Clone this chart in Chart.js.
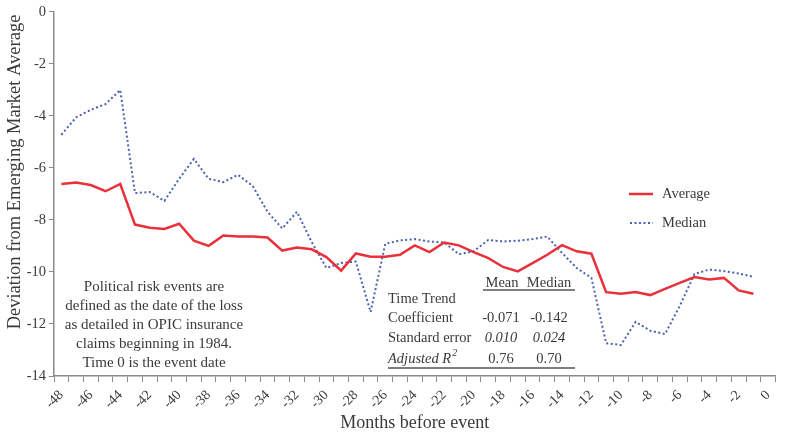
<!DOCTYPE html>
<html>
<head>
<meta charset="utf-8">
<script src="https://cdn.jsdelivr.net/npm/chart.js@4"></script>
<style>
  body { margin: 0; background: #fff; }
</style>
</head>
<body>
<canvas id="chart" width="785" height="434"></canvas>
<script>
const months = ['-48','-47','-46','-45','-44','-43','-42','-41','-40','-39','-38','-37','-36','-35','-34','-33','-32','-31','-30','-29','-28','-27','-26','-25','-24','-23','-22','-21','-20','-19','-18','-17','-16','-15','-14','-13','-12','-11','-10','-9','-8','-7','-6','-5','-4','-3','-2','-1','0'];

// month -48 .. -1, nothing at 0
const average = [-6.62,-6.56,-6.66,-6.90,-6.62,-8.18,-8.30,-8.35,-8.15,-8.80,-9.00,-8.60,-8.64,-8.64,-8.68,-9.18,-9.06,-9.13,-9.43,-9.95,-9.29,-9.42,-9.42,-9.34,-8.98,-9.24,-8.87,-8.98,-9.24,-9.47,-9.81,-9.98,-9.66,-9.34,-8.97,-9.21,-9.30,-10.78,-10.84,-10.77,-10.89,-10.65,-10.42,-10.20,-10.29,-10.23,-10.71,-10.84,null];
const median = [-4.73,-4.06,-3.77,-3.55,-3.01,-6.97,-6.93,-7.27,-6.42,-5.66,-6.42,-6.55,-6.27,-6.70,-7.69,-8.33,-7.69,-8.85,-9.85,-9.66,-9.60,-11.54,-8.92,-8.79,-8.74,-8.83,-8.87,-9.32,-9.21,-8.77,-8.83,-8.80,-8.74,-8.64,-9.27,-9.85,-10.23,-12.74,-12.81,-11.92,-12.26,-12.39,-11.31,-10.08,-9.91,-9.97,-10.06,-10.19,null];

const yTitle = 'Deviation from Emerging Market Average';
const noteLines = ['Political risk events are','defined as the date of the loss','as detailed in OPIC insurance','claims beginning in 1984.','Time 0 is the event date'];
const tableHead = ['Mean','Median'];
const tableRows = [
  ['Time Trend', '', ''],
  ['Coefficient', '-0.071', '-0.142'],
  ['Standard error', '0.010', '0.024'],
  ['Adjusted R', '0.76', '0.70']
];

const serif = "'Liberation Serif', 'Times New Roman', serif";
const red = '#e8313b';
const blue = '#4a62ad';
const axisGray = '#8a8a8a';
const textCol = '#3a3a3a';

const extras = {
  id: 'extras',
  afterDraw(chart) {
    const ctx = chart.ctx;
    ctx.save();
    ctx.fillStyle = textCol;
    ctx.textBaseline = 'middle';

    // y axis title, sits a bit above the middle like the original
    ctx.save();
    ctx.translate(15, 172);
    ctx.rotate(-Math.PI / 2);
    ctx.textAlign = 'center';
    ctx.font = '18.5px ' + serif;
    ctx.fillText(yTitle, 0, 0);
    ctx.restore();

    // legend
    ctx.lineWidth = 2.5;
    ctx.strokeStyle = red;
    ctx.beginPath(); ctx.moveTo(629, 194); ctx.lineTo(653, 194); ctx.stroke();
    ctx.lineWidth = 2;
    ctx.strokeStyle = blue;
    ctx.setLineDash([2, 2.5]);
    ctx.beginPath(); ctx.moveTo(630, 223); ctx.lineTo(653, 223); ctx.stroke();
    ctx.setLineDash([]);
    ctx.font = '14.5px ' + serif;
    ctx.textAlign = 'left';
    ctx.fillText('Average', 662, 194);
    ctx.fillText('Median', 662, 223);

    // note on the left
    ctx.font = '15px ' + serif;
    ctx.textAlign = 'center';
    noteLines.forEach((t, i) => ctx.fillText(t, 154, 287 + i * 18.9));

    // table
    ctx.font = '14.5px ' + serif;
    ctx.fillText(tableHead[0], 502, 283);
    ctx.fillText(tableHead[1], 549, 283);
    ctx.strokeStyle = '#555';
    ctx.lineWidth = 1.3;
    ctx.beginPath(); ctx.moveTo(483, 290); ctx.lineTo(575, 290); ctx.stroke();
    const rowY = [299, 318.5, 338.5, 359];
    tableRows.forEach((r, i) => {
      const italicLabel = i === 3;
      const italicVals = i === 2;
      ctx.textAlign = 'left';
      ctx.font = (italicLabel ? 'italic ' : '') + '14.5px ' + serif;
      ctx.fillText(r[0], 388, rowY[i]);
      if (italicLabel) {
        const w = ctx.measureText(r[0]).width;
        ctx.font = 'italic 10px ' + serif;
        ctx.fillText('2', 388 + w + 1, rowY[i] - 6);
      }
      ctx.textAlign = 'center';
      ctx.font = (italicVals ? 'italic ' : '') + '14.5px ' + serif;
      ctx.fillText(r[1], 501, rowY[i]);
      ctx.fillText(r[2], 549, rowY[i]);
    });
    ctx.beginPath(); ctx.moveTo(388, 368); ctx.lineTo(575, 368); ctx.stroke();
    ctx.restore();
  }
};

new Chart(document.getElementById('chart'), {
  type: 'line',
  data: {
    labels: months,
    datasets: [
      {
        label: 'Average',
        data: average,
        borderColor: red,
        borderWidth: 2.5,
        pointRadius: 0,
        tension: 0,
        fill: false
      },
      {
        label: 'Median',
        data: median,
        borderColor: blue,
        borderWidth: 2,
        borderDash: [2, 2.5],
        pointRadius: 0,
        tension: 0,
        fill: false
      }
    ]
  },
  options: {
    responsive: false,
    animation: false,
    layout: { padding: { top: 7, right: 1, left: 0, bottom: 0 } },
    plugins: {
      legend: { display: false },
      tooltip: { enabled: false }
    },
    scales: {
      x: {
        type: 'category',
        offset: true,
        grid: { offset: true, drawOnChartArea: false, tickLength: 6, color: axisGray },
        border: { color: axisGray, width: 1.5 },
        ticks: {
          autoSkip: false,
          maxRotation: 45,
          minRotation: 45,
          padding: 5,
          color: textCol,
          font: { family: serif, size: 14 },
          callback: (v, i) => (i % 2 === 0 ? months[i] : '')
        },
        title: {
          display: true,
          text: 'Months before event',
          color: textCol,
          font: { family: serif, size: 18 },
          padding: { top: 0, bottom: 0 }
        },
        afterFit: (s) => { s.height = 58; }
      },
      y: {
        min: -14,
        max: 0,
        grid: { drawOnChartArea: false, tickLength: 5, color: axisGray },
        border: { color: axisGray, width: 1.5 },
        ticks: {
          stepSize: 2,
          padding: 3,
          color: textCol,
          font: { family: serif, size: 14.5 }
        },
        afterFit: (s) => { s.width = 54; }
      }
    }
  },
  plugins: [extras]
});
</script>
</body>
</html>
